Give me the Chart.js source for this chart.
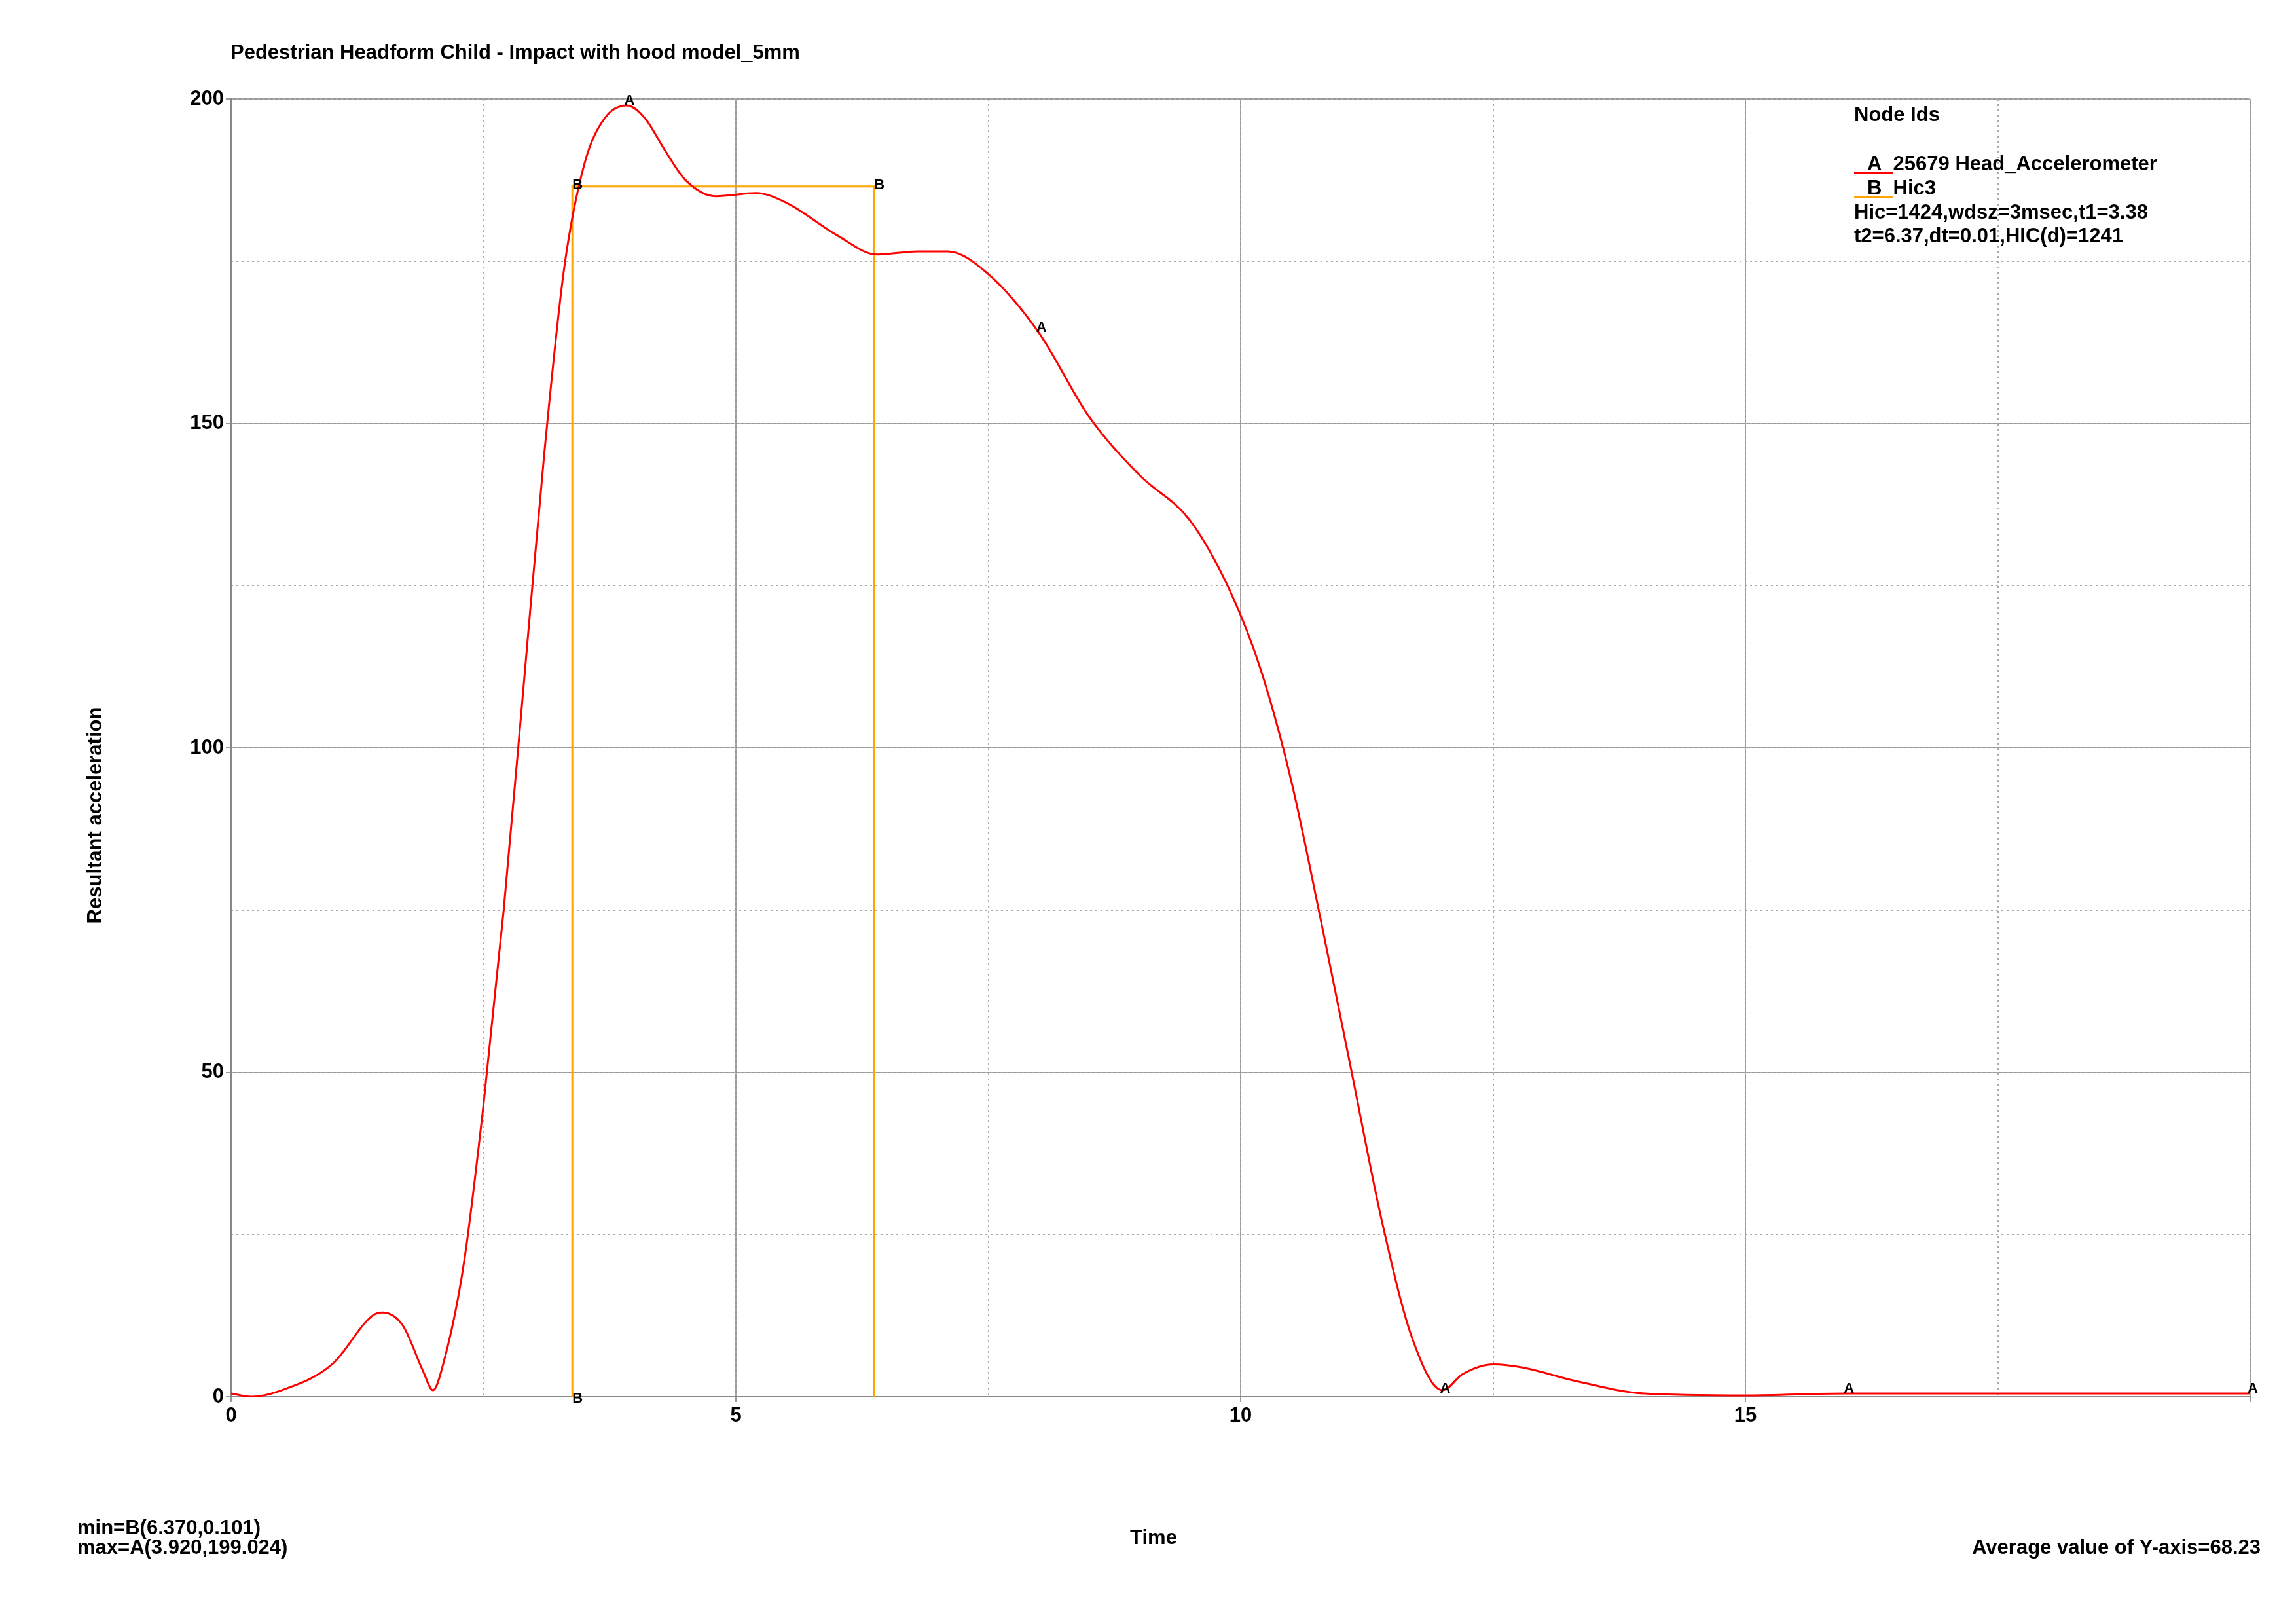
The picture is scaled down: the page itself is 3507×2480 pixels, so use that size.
<!DOCTYPE html>
<html>
<head>
<meta charset="utf-8">
<script src="https://cdn.jsdelivr.net/npm/chart.js@4/dist/chart.umd.min.js"></script>
<style>
  html, body { margin: 0; padding: 0; background: #fff; }
  #wrap { width: 3507px; height: 2480px; }
</style>
</head>
<body>
<div id="wrap"><canvas id="c" width="3507" height="2480"></canvas></div>
<script>
// curve A: resultant acceleration of head accelerometer
const timeA = [0, 0.2, 0.5, 1, 1.4, 1.5, 1.7, 1.9, 2.0, 2.1, 2.3, 2.5, 2.7, 2.9, 3.1, 3.3, 3.5, 3.7, 3.92, 4.1, 4.3, 4.5, 4.8, 5.2, 5.5, 6.0, 6.4, 6.8, 7.1, 7.5, 8, 8.5, 9, 9.5, 9.9, 10.2, 10.5, 10.8, 11.1, 11.4, 11.7, 12.0, 12.2, 12.5, 12.8, 13.3, 14, 15, 16, 20];
const accelA = [0.5, 0, 1, 5, 12.5, 13, 11, 4, 1, 5, 20, 45, 75, 110, 145, 174, 190, 197, 199, 197, 192, 187.5, 185, 185.5, 184, 179, 176, 176.5, 176.5, 173, 164, 151, 142, 135, 124, 112, 95, 73, 50, 27, 9, 1, 3.5, 5, 4.5, 2.5, 0.5, 0.2, 0.5, 0.5];
// curve B: HIC window
const timeB = [3.38, 3.38, 6.37, 6.37];
const hicB = [0, 186.5, 186.5, 0];
// marker letters on curves
const labelsA = [[3.92, 199], [8, 164], [12, 0.5], [16, 0.5], [20, 0.5]];
const labelsB = [[3.38, 187], [6.37, 187], [3.38, 0]];

const FONT = 'bold 31px "Liberation Sans", Arial, sans-serif';

const toPts = (xs, ys) => xs.map((x, i) => ({ x, y: ys[i] }));

const extras = {
    id: 'extras',
    afterDraw(chart) {
        const { ctx, scales } = chart;
        const x = scales.x, y = scales.y;
        ctx.save();
        ctx.fillStyle = '#000';
        ctx.font = 'bold 22px "Liberation Sans", Arial, sans-serif';
        ctx.textAlign = 'center';
        ctx.textBaseline = 'bottom';
        labelsA.forEach(([t, v]) => ctx.fillText('A', x.getPixelForValue(t) + 4, y.getPixelForValue(v) + 4));
        labelsB.forEach(([t, v]) => ctx.fillText('B', x.getPixelForValue(t) + 8, y.getPixelForValue(v) + 14));

        ctx.font = FONT;
        ctx.textAlign = 'left';
        ctx.textBaseline = 'alphabetic';
        ctx.fillText('Pedestrian Headform Child - Impact with hood model_5mm', 352, 90);

        // legend
        const lx = 2832;
        ctx.fillText('Node Ids', lx, 185);
        ctx.fillText('A  25679 Head_Accelerometer', lx + 20, 260);
        ctx.fillText('B  Hic3', lx + 20, 297);
        ctx.fillText('Hic=1424,wdsz=3msec,t1=3.38', lx, 334);
        ctx.fillText('t2=6.37,dt=0.01,HIC(d)=1241', lx, 370);
        ctx.lineWidth = 3;
        ctx.strokeStyle = '#ff0000';
        ctx.beginPath(); ctx.moveTo(lx, 264); ctx.lineTo(lx + 60, 264); ctx.stroke();
        ctx.strokeStyle = '#ffa500';
        ctx.beginPath(); ctx.moveTo(lx, 301); ctx.lineTo(lx + 60, 301); ctx.stroke();

        ctx.fillText('min=B(6.370,0.101)', 118, 2343);
        ctx.fillText('max=A(3.920,199.024)', 118, 2373);
        ctx.textAlign = 'center';
        ctx.fillText('Time', 1762, 2358);
        ctx.textAlign = 'right';
        ctx.fillText('Average value of Y-axis=68.23', 3453, 2373);

        ctx.translate(155, 1245);
        ctx.rotate(-Math.PI / 2);
        ctx.textAlign = 'center';
        ctx.fillText('Resultant acceleration', 0, 0);
        ctx.restore();
    }
};

new Chart(document.getElementById('c'), {
    type: 'scatter',
    data: {
        datasets: [
            {
                data: toPts(timeA, accelA),
                showLine: true,
                borderColor: '#ff0000',
                borderWidth: 3,
                pointRadius: 0,
                cubicInterpolationMode: 'monotone'
            },
            {
                data: toPts(timeB, hicB),
                showLine: true,
                borderColor: '#ffa500',
                borderWidth: 3,
                pointRadius: 0,
                tension: 0
            }
        ]
    },
    options: {
        responsive: false,
        animation: false,
        layout: { padding: { top: 151, right: 70, bottom: 287, left: 0 } },
        plugins: { legend: { display: false }, tooltip: { enabled: false } },
        scales: {
            x: {
                type: 'linear', min: 0, max: 20,
                afterFit: s => { s.height = 60; },
                border: { color: '#888', width: 2 },
                grid: { color: '#999', lineWidth: 2, tickLength: 8 },
                ticks: {
                    stepSize: 5, color: '#000',
                    font: { family: '"Liberation Sans", Arial', size: 31, weight: 'bold' },
                    callback: v => (v < 20 ? v : '')
                }
            },
            y: {
                min: 0, max: 200,
                afterFit: s => { s.width = 353; },
                border: { color: '#888', width: 2 },
                grid: { color: '#999', lineWidth: 2, tickLength: 8 },
                ticks: {
                    stepSize: 50, color: '#000',
                    font: { family: '"Liberation Sans", Arial', size: 31, weight: 'bold' }
                }
            },
            x2: {
                type: 'linear', min: 0, max: 20, position: 'top',
                afterFit: s => { s.height = 0; },
                border: { display: false, dash: [3, 5] },
                grid: { color: '#aaa', lineWidth: 2, drawTicks: false },
                ticks: { stepSize: 2.5, display: false }
            },
            y2: {
                min: 0, max: 200, position: 'right',
                afterFit: s => { s.width = 0; },
                border: { display: false, dash: [3, 5] },
                grid: { color: '#aaa', lineWidth: 2, drawTicks: false },
                ticks: { stepSize: 25, display: false }
            }
        }
    },
    plugins: [extras]
});
</script>
</body>
</html>
